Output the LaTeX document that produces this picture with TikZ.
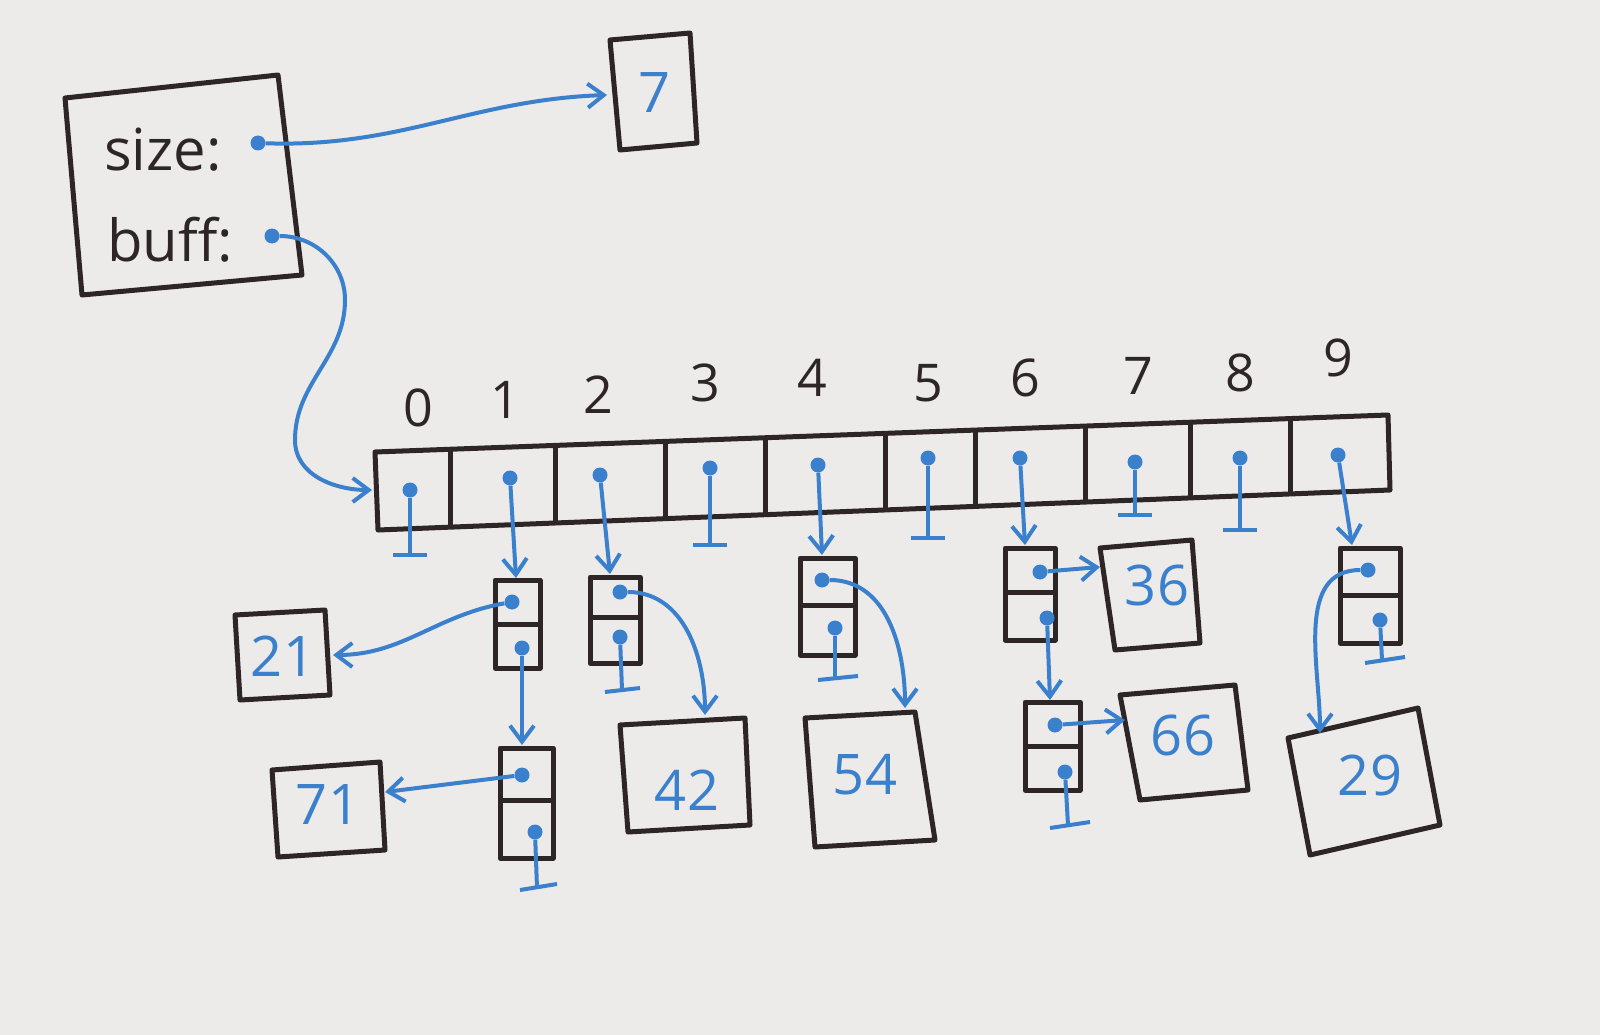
\documentclass[tikz,border=0pt]{standalone}
\usepackage{fontspec}
\setmainfont{Open Sans}
\usetikzlibrary{arrows.meta}
\definecolor{pen}{HTML}{2E2626}
\definecolor{bl}{HTML}{3A80CC}
\definecolor{paper}{HTML}{ECEBE9}
\tikzset{
  box/.style={draw=pen,line width=5pt,line join=round},
  ptr/.style={bl,line width=4pt,-{Straight Barb[length=16pt,width=24pt,line width=4pt]}},
  nul/.style={bl,line width=4pt},
  dotc/.style={circle,fill=bl,inner sep=0pt,minimum size=15pt},
  num/.style={bl,font=\fontsize{56}{56}\selectfont},
  idx/.style={pen,font=\fontsize{52}{52}\selectfont},
}
\begin{document}
\begin{tikzpicture}[x=1pt,y=-1pt]
\fill[paper] (0,0) rectangle (1600,1035);
\useasboundingbox (0,0) rectangle (1600,1035);
% struct
\draw[box] (65,98) -- (278,75) -- (302,275) -- (82,295) -- cycle;
\node[pen,font=\fontsize{58}{58}\selectfont] (sz) at (163,150) {size:};
\node[pen,font=\fontsize{58}{58}\selectfont] (bf) at (170,240) {buff:};
\node[dotc] (ds) at (258,143) {};
\node[dotc] (db) at (272,236) {};
% box 7
\draw[box] (610,40) -- (690,33) -- (697,143) -- (620,150) -- cycle;
\node[num] (n7) at (655,93) {7};
\coordinate (a7) at (607,95);
\draw[ptr] (ds) to[out=-2,in=182] (a7);
% array
\draw[box] (375,452) -- (1388,415) -- (1390,490) -- (378,530) -- cycle;
\foreach \x/\t/\b in {450/449/527,555/445/523,665/441/519,765/437/515,885/433/511,975/430/507,1085/426/503,1190/422/499,1290/418/495}
  \draw[box] (\x,\t) -- (\x,\b);
\coordinate (a0) at (372,490);
\draw[ptr] (db) to[out=0,in=90] (345,300) to[out=-90,in=90] (295,440) to[out=-90,in=180] (a0);
% indices
\foreach \i/\x/\y in {0/418/408,1/505/400,2/598/395,3/705/383,4/812/378,5/928/383,6/1025/378,7/1138/376,8/1240/373,9/1338/358}
  \node[idx] (i\i) at (\x,\y) {\i};
% null cells
\foreach \n/\x/\y/\e in {0/410/490/555,3/710/468/545,5/928/458/538,7/1135/462/515,8/1240/458/530}{
  \node[dotc] (c\n) at (\x,\y) {};
  \draw[nul] (c\n) -- (\x,\e);
  \draw[nul] (\x-17,\e) -- (\x+17,\e);
}
% cell dots
\node[dotc] (c1) at (510,478) {};
\node[dotc] (c2) at (600,475) {};
\node[dotc] (c4) at (818,465) {};
\node[dotc] (c6) at (1020,458) {};
\node[dotc] (c9) at (1338,455) {};
% value boxes
\draw[box] (235,615) -- (325,610) -- (330,695) -- (240,700) -- cycle; \node[num] (v21) at (283,656) {21};
\draw[box] (272,770) -- (380,762) -- (385,850) -- (278,857) -- cycle; \node[num] (v71) at (328,805) {71};
\draw[box] (620,725) -- (745,718) -- (750,825) -- (628,832) -- cycle; \node[num] (v42) at (687,790) {42};
\draw[box] (805,718) -- (915,712) -- (935,840) -- (815,847) -- cycle; \node[num] (v54) at (865,775) {54};
\draw[box] (1100,548) -- (1192,540) -- (1200,643) -- (1115,650) -- cycle; \node[num] (v36) at (1157,585) {36};
\draw[box] (1120,695) -- (1235,685) -- (1248,790) -- (1140,800) -- cycle; \node[num] (v66) at (1183,735) {66};
\draw[box] (1288,738) -- (1418,708) -- (1440,825) -- (1310,855) -- cycle; \node[num] (v29) at (1370,775) {29};
\newcommand{\lnode}[5]{%
  \draw[box] (#1,#2) rectangle (#3,#4); \draw[box] (#1,#5) -- (#3,#5);}
% cell 1
\lnode{495}{580}{540}{668}{624}
\draw[ptr] (c1) -- (516,578);
\node[dotc] (p1a) at (512,602) {};
\node[dotc] (p1b) at (522,648) {};
\draw[ptr] (p1a) to[out=190,in=0] (333,655);
\lnode{500}{748}{553}{858}{800}
\draw[ptr] (p1b) -- (522,745);
\node[dotc] (p1c) at (522,775) {};
\node[dotc] (p1d) at (535,832) {};
\draw[ptr] (p1c) -- (385,792);
\draw[nul] (p1d) -- (537,888); \draw[nul] (520,890) -- (557,884);
% cell 2
\lnode{590}{577}{640}{663}{617}
\draw[ptr] (c2) -- (610,574);
\node[dotc] (p2a) at (620,592) {};
\node[dotc] (p2b) at (620,637) {};
\draw[ptr] (p2a) to[out=0,in=90] (705,715);
\draw[nul] (p2b) -- (622,690); \draw[nul] (605,692) -- (640,688);
% cell 4
\lnode{800}{558}{855}{655}{605}
\draw[ptr] (c4) -- (822,555);
\node[dotc] (p4a) at (822,580) {};
\node[dotc] (p4b) at (835,628) {};
\draw[ptr] (p4a) to[out=0,in=90] (905,708);
\draw[nul] (p4b) -- (835,678); \draw[nul] (818,680) -- (858,676);
% cell 6
\lnode{1005}{548}{1055}{640}{592}
\draw[ptr] (c6) -- (1025,545);
\node[dotc] (p6a) at (1040,572) {};
\node[dotc] (p6b) at (1047,618) {};
\draw[ptr] (p6a) -- (1100,567);
\lnode{1025}{702}{1080}{790}{746}
\draw[ptr] (p6b) -- (1050,700);
\node[dotc] (p6c) at (1055,725) {};
\node[dotc] (p6d) at (1065,772) {};
\draw[ptr] (p6c) -- (1125,720);
\draw[nul] (p6d) -- (1068,825); \draw[nul] (1050,828) -- (1090,822);
% cell 9
\lnode{1340}{548}{1400}{643}{595}
\draw[ptr] (c9) -- (1352,545);
\node[dotc] (p9a) at (1368,570) {};
\node[dotc] (p9b) at (1380,620) {};
\draw[ptr] (p9a) to[out=180,in=90] (1320,733);
\draw[nul] (p9b) -- (1382,660); \draw[nul] (1365,663) -- (1405,657);
\end{tikzpicture}
\end{document}
